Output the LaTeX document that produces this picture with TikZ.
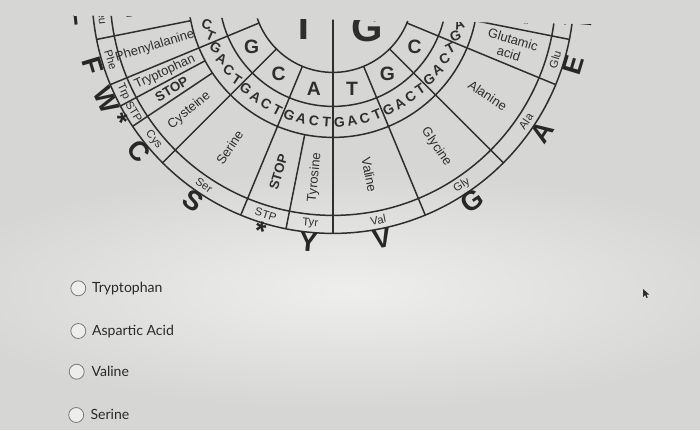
\documentclass[tikz,border=0pt]{standalone}
\usepackage{fontspec}
\setmainfont{Liberation Sans}
\newfontfamily\latofont{Lato}
\usetikzlibrary{calc}

\definecolor{paper}{RGB}{214,214,213}
\definecolor{glare}{RGB}{238,238,236}
\definecolor{ink}{RGB}{46,46,46}
\definecolor{radioedge}{RGB}{120,120,120}

\tikzset{
  wheel/.style={draw=ink, line width=0.85pt},
  firstbase/.style={text=ink, inner sep=0pt, font=\bfseries\fontsize{23}{23}\selectfont},
  secondbase/.style={text=ink, inner sep=0pt, font=\bfseries\fontsize{11}{11}\selectfont},
  thirdbase/.style={text=ink, inner sep=0pt, font=\bfseries\fontsize{7.9}{8}\selectfont},
  aminoname/.style={text=ink, inner sep=0pt, align=center, font=\fontsize{7.4}{8.4}\selectfont},
  stopname/.style={text=ink, inner sep=0pt, font=\bfseries\fontsize{7.6}{8}\selectfont},
  aminoshort/.style={text=ink, inner sep=0pt, font=\fontsize{6.4}{7}\selectfont},
  aminoletter/.style={text=ink!85!black, inner sep=0pt, font=\bfseries\fontsize{15.5}{16}\selectfont},
  radiobtn/.style={circle, draw=radioedge, fill=white!55!paper, line width=0.45pt, minimum size=8.5pt, inner sep=0pt},
  answer/.style={anchor=base west, text=ink!90!black, inner sep=0pt, font=\latofont\fontsize{8}{9}\selectfont}
}

\begin{document}
\begin{tikzpicture}[x=0.02cm, y=0.02cm]
\useasboundingbox (0,0) rectangle (700,430);
\fill[paper] (0,0) rectangle (700,430);
\shade[inner color=glare, outer color=paper] (350,140) ellipse (420 and 120);

% the wheel, cut off at the top of the photo
\begin{scope}
\clip (0,416) -- (700,404) -- (700,0) -- (0,0) -- cycle;
\coordinate (O) at (333,437.6);
\begin{scope}[shift={(O)}]
  % rings
  \foreach \r in {80,114,145,223,241}
    \draw[wheel] (0,0) circle[radius=\r];
  % quadrants, second base, amino acid borders
  \foreach \a in {180,270,360}
    \draw[wheel] (0,0) -- (\a:241);
  \foreach \a in {202.5,225,247.5,292.5,315,337.5}
    \draw[wheel] (\a:80) -- (\a:241);
  \foreach \a in {191.25,208.125,213.75,258.75,348.75}
    \draw[wheel] (\a:145) -- (\a:241);

  % second base
  \foreach \nuc [count=\i from 0] in {T,G,C,A,T,G,C,A}
    \node[secondbase] (second-\i) at ({180+22.5*(\i+0.5)}:98) {\nuc};

  % third base
  \foreach \s in {0,...,7}
    \foreach \nuc [count=\j from 0] in {G,A,C,T}{
      \pgfmathsetmacro{\ang}{180+22.5*\s+5.625*(\j+0.5)}
      \pgfmathsetmacro{\rot}{1.5*(\ang-270)*(1-abs(\ang-270)/90)}
      \node[thirdbase, rotate=\rot] (third-\s-\j) at (\ang:130) {\nuc};
    }

  % amino acids: name, short name, letter
  \foreach \ang/\aname/\abbr/\asym in {185.625/Leucine/Leu/L, 196.875/Phenylalanine/Phe/F,
      205.3125/Tryptophan/Trp/W, 219.375/Cysteine/Cys/C, 236.25/Serine/Ser/S,
      264.375/Tyrosine/Tyr/Y, 281.25/Valine/Val/V, 303.75/Glycine/Gly/G,
      326.25/Alanine/Ala/A, 343.125/{Glutamic\\acid}/Glu/E, 354.375/{Aspartic\\acid}/Asp/D}{
    \pgfmathsetmacro{\rot}{\ang<270 ? \ang-180 : \ang-360}
    \node[aminoname, rotate=\rot] (name-\abbr) at (\ang:186) {\aname};
    \node[aminoshort, rotate=\ang+90] (short-\abbr) at (\ang:232) {\abbr};
    \node[aminoletter, rotate=\ang+90] (sym-\abbr) at (\ang:251) {\asym};
  }
  % stop codons
  \foreach \ang [count=\k] in {210.9375,253.125}{
    \pgfmathsetmacro{\rot}{\ang-180}
    \node[stopname, rotate=\rot] (stop-\k) at (\ang:188) {STOP};
    \node[aminoshort, rotate=\ang+90] (stp-\k) at (\ang:232) {STP};
    \node[aminoletter, rotate=\ang+90] (star-\k) at (\ang:249) {*};
  }
\end{scope}
% first base
\node[firstbase, anchor=base] (first-t) at (304,390) {T};
\node[firstbase, anchor=base] (first-g) at (367,388.5) {G};
\end{scope}

% answers
\node[radiobtn] (opt-1) at (78.3,141.7) {};
\node[radiobtn] (opt-2) at (78.3,99) {};
\node[radiobtn] (opt-3) at (76.7,58.3) {};
\node[radiobtn] (opt-4) at (76.2,15) {};
\node[answer] (ans-1) at (91.7,137.3) {Tryptophan};
\node[answer] (ans-2) at (91.7,95) {Aspartic Acid};
\node[answer] (ans-3) at (91.2,54) {Valine};
\node[answer] (ans-4) at (90.2,11) {Serine};

% mouse pointer
\fill[ink] (643,141) -- (643,133) -- (645,135) -- (646.6,132) -- (647.8,132.6)
  -- (646.3,135.4) -- (649.3,135.4) -- cycle;
\end{tikzpicture}
\end{document}
